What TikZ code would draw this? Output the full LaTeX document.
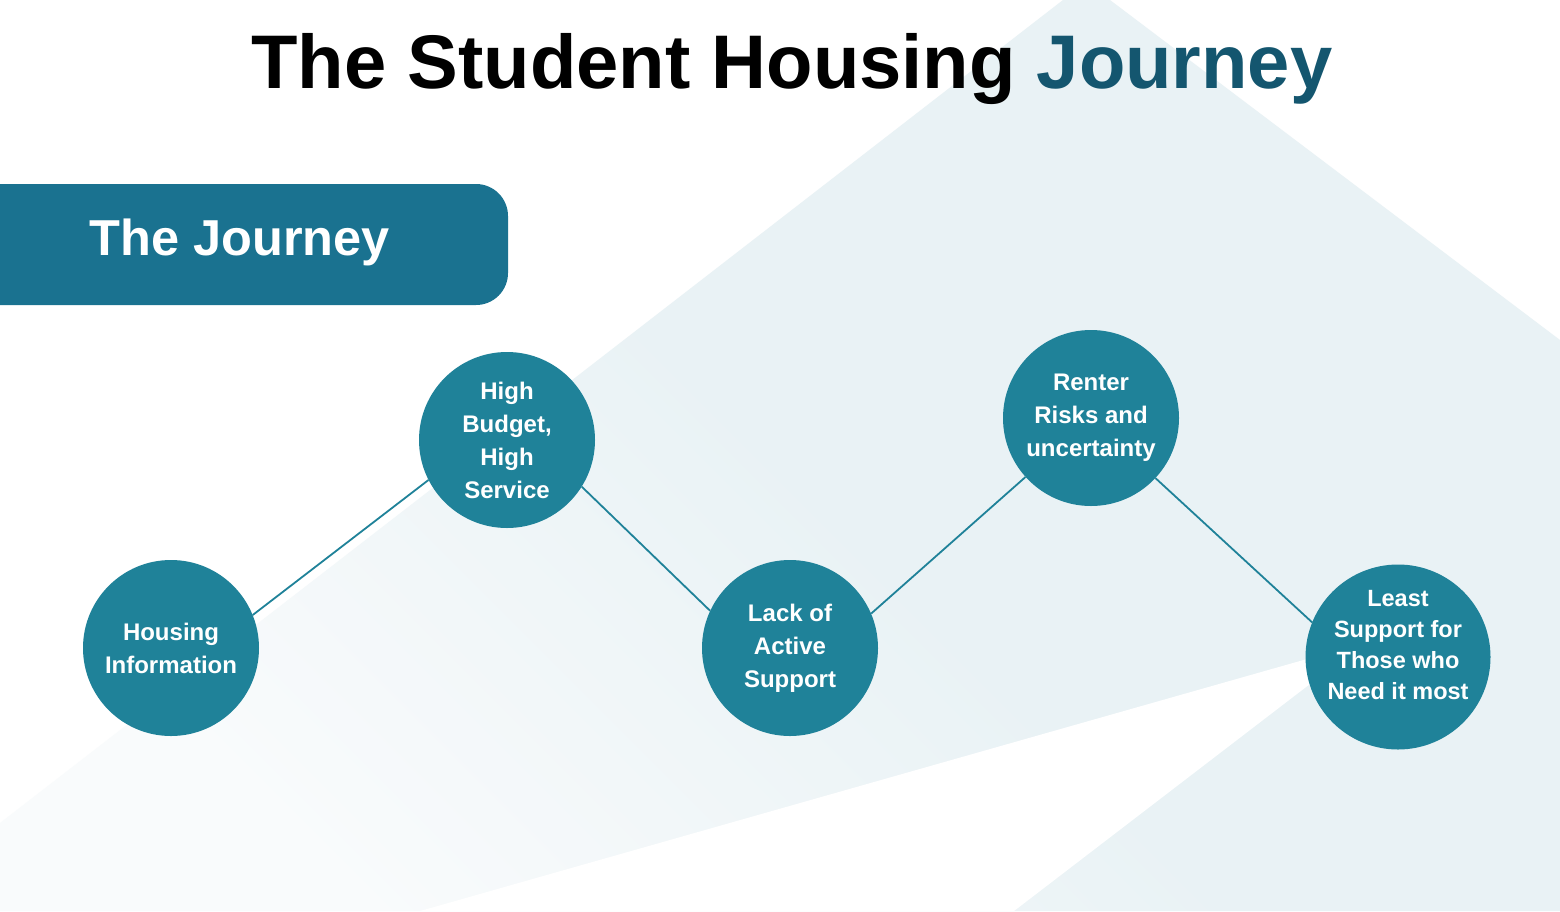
\documentclass[tikz,border=0pt]{standalone}
\usepackage{fontspec}
\setmainfont{Liberation Sans}
\usepackage{tikz}
\definecolor{stopTeal}{HTML}{1F8299}
\definecolor{boxTeal}{HTML}{1A7290}
\definecolor{titleTeal}{HTML}{14566F}
\definecolor{bgHi}{HTML}{E9F2F5}
\definecolor{bgLo}{HTML}{F9FBFC}

\begin{document}
\begin{tikzpicture}[
  x=1pt,y=-1pt,
  stop/.style={circle,fill=stopTeal,text=white,align=center,inner sep=0pt,minimum size=#1,
    font=\bfseries\fontsize{24}{33}\selectfont},
  stop/.default=176pt,
  link/.style={draw=stopTeal,line width=1.8pt}
]
\useasboundingbox (0,0) rectangle (1560,911);
\begin{scope}
  \clip (0,0) rectangle (1560,911);
  \fill[white] (0,0) rectangle (1560,911);
  \shade[top color=bgHi,bottom color=bgLo,middle color=bgHi,shading angle=-45]
    (0,823) -- (1063,0) -- (1110,0) -- (1560,340) -- (1560,911) -- (0,911) -- cycle;
  \fill[white] (420,911) -- (1307,659) -- (1310,684) -- (1014,911) -- cycle;
  \fill[boxTeal,rounded corners=32pt] (-40,184) rectangle (508,305);
\end{scope}

\node[anchor=base,font=\bfseries\fontsize{76}{90}\selectfont] (title) at (792,88)
  {The Student Housing \textcolor{titleTeal}{Journey}};
\node[anchor=base west,text=white,font=\bfseries\fontsize{50.5}{60}\selectfont] (section) at (86,255)
  {The Journey};

\node[stop] (info) at (171,648) {Housing\\Information};
\node[stop] (budget) at (507,440) {High\\Budget,\\High\\Service};
\node[stop] (lack) at (790,648) {Lack of\\Active\\Support};
\node[stop] (risk) at (1091,418) {Renter\\Risks and\\uncertainty};
\node[stop=185pt] (least) at (1398,657) {};
\node[text=white,align=center,font=\bfseries\fontsize{23.5}{31}\selectfont] (leasttext)
  at ([yshift=12pt]least.center) {Least\\Support for\\Those who\\Need it most};

\draw[link] (info.22) -- (budget.207);
\draw[link] (budget.-32) -- (lack.155);
\draw[link] (lack.23) -- (risk.222);
\draw[link] (risk.-43) -- (least.158);
\end{tikzpicture}
\end{document}
